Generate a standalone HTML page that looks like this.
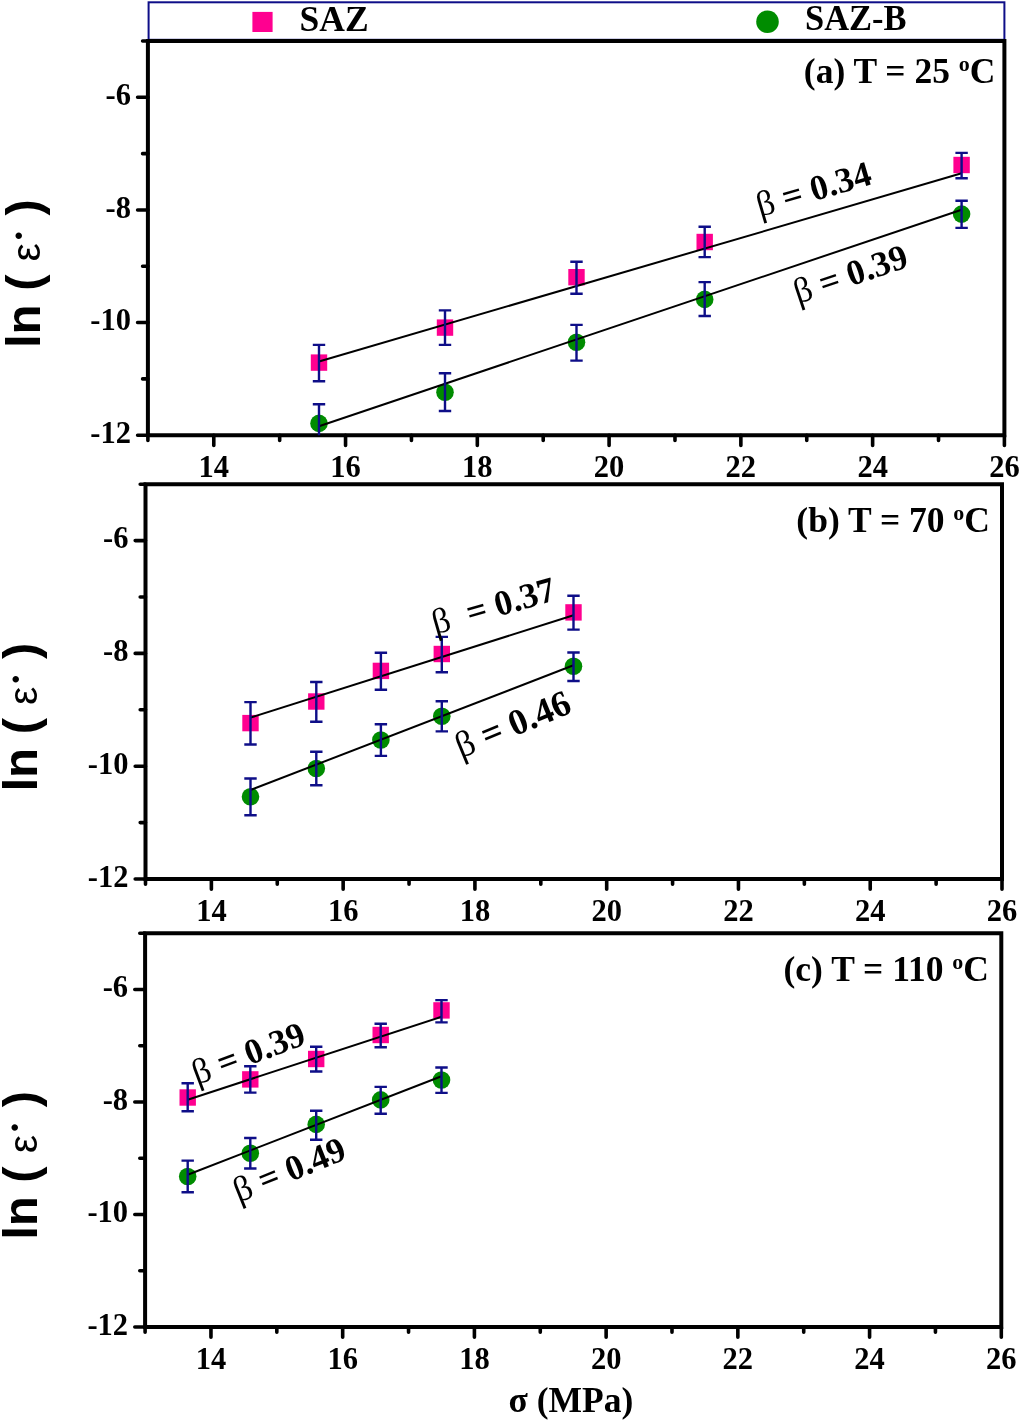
<!DOCTYPE html>
<html><head><meta charset="utf-8"><style>
html,body{margin:0;padding:0;background:#fff;}
svg{display:block;}
</style></head><body>
<svg width="1020" height="1420" viewBox="0 0 1020 1420">
<rect width="1020" height="1420" fill="#fff"/>
<rect x="148.6" y="2.3" width="855.8" height="37.5" fill="none" stroke="#0e0e88" stroke-width="2"/>
<rect x="252.4" y="11.9" width="20.2" height="20.1" fill="#ff0090"/>
<text x="299.5" y="30.6" font-family="'Liberation Serif', 'Times New Roman', serif" font-weight="bold" font-size="35.5">SAZ</text>
<circle cx="767.5" cy="21.8" r="11.3" fill="#008c00"/>
<text x="805" y="30.0" font-family="'Liberation Serif', 'Times New Roman', serif" font-weight="bold" font-size="35.5" textLength="101.5" lengthAdjust="spacingAndGlyphs">SAZ-B</text>
<path d="M147.9 41.0 H1004.4 V435.2 H147.9 Z" fill="none" stroke="#000" stroke-width="4.0" stroke-linejoin="miter"/>
<path d="M147.90 435.2 v5.3 M213.78 435.2 v10.3 M279.67 435.2 v5.3 M345.55 435.2 v10.3 M411.44 435.2 v5.3 M477.32 435.2 v10.3 M543.21 435.2 v5.3 M609.09 435.2 v10.3 M674.98 435.2 v5.3 M740.86 435.2 v10.3 M806.75 435.2 v5.3 M872.63 435.2 v10.3 M938.52 435.2 v5.3 M1004.40 435.2 v10.3 M147.9 435.20 h-10.3 M147.9 378.89 h-5.3 M147.9 322.57 h-10.3 M147.9 266.26 h-5.3 M147.9 209.94 h-10.3 M147.9 153.63 h-5.3 M147.9 97.31 h-10.3 M147.9 41.00 h-5.3" stroke="#000" stroke-width="3.6" stroke-linecap="round" fill="none"/>
<text x="213.78" y="476.70" text-anchor="middle" font-family="'Liberation Serif', 'Times New Roman', serif" font-weight="bold" font-size="30.5">14</text>
<text x="345.55" y="476.70" text-anchor="middle" font-family="'Liberation Serif', 'Times New Roman', serif" font-weight="bold" font-size="30.5">16</text>
<text x="477.32" y="476.70" text-anchor="middle" font-family="'Liberation Serif', 'Times New Roman', serif" font-weight="bold" font-size="30.5">18</text>
<text x="609.09" y="476.70" text-anchor="middle" font-family="'Liberation Serif', 'Times New Roman', serif" font-weight="bold" font-size="30.5">20</text>
<text x="740.86" y="476.70" text-anchor="middle" font-family="'Liberation Serif', 'Times New Roman', serif" font-weight="bold" font-size="30.5">22</text>
<text x="872.63" y="476.70" text-anchor="middle" font-family="'Liberation Serif', 'Times New Roman', serif" font-weight="bold" font-size="30.5">24</text>
<text x="1004.40" y="476.70" text-anchor="middle" font-family="'Liberation Serif', 'Times New Roman', serif" font-weight="bold" font-size="30.5">26</text>
<text x="130.90" y="105.11" text-anchor="end" font-family="'Liberation Serif', 'Times New Roman', serif" font-weight="bold" font-size="30.5">-6</text>
<text x="130.90" y="217.74" text-anchor="end" font-family="'Liberation Serif', 'Times New Roman', serif" font-weight="bold" font-size="30.5">-8</text>
<text x="130.90" y="330.37" text-anchor="end" font-family="'Liberation Serif', 'Times New Roman', serif" font-weight="bold" font-size="30.5">-10</text>
<text x="130.90" y="443.00" text-anchor="end" font-family="'Liberation Serif', 'Times New Roman', serif" font-weight="bold" font-size="30.5">-12</text>
<path d="M145.5 484.2 H1002.0 V879.0 H145.5 Z" fill="none" stroke="#000" stroke-width="4.0" stroke-linejoin="miter"/>
<path d="M145.50 879.0 v5.3 M211.38 879.0 v10.3 M277.27 879.0 v5.3 M343.15 879.0 v10.3 M409.04 879.0 v5.3 M474.92 879.0 v10.3 M540.81 879.0 v5.3 M606.69 879.0 v10.3 M672.58 879.0 v5.3 M738.46 879.0 v10.3 M804.35 879.0 v5.3 M870.23 879.0 v10.3 M936.12 879.0 v5.3 M1002.00 879.0 v10.3 M145.5 879.00 h-10.3 M145.5 822.60 h-5.3 M145.5 766.20 h-10.3 M145.5 709.80 h-5.3 M145.5 653.40 h-10.3 M145.5 597.00 h-5.3 M145.5 540.60 h-10.3 M145.5 484.20 h-5.3" stroke="#000" stroke-width="3.6" stroke-linecap="round" fill="none"/>
<text x="211.38" y="920.50" text-anchor="middle" font-family="'Liberation Serif', 'Times New Roman', serif" font-weight="bold" font-size="30.5">14</text>
<text x="343.15" y="920.50" text-anchor="middle" font-family="'Liberation Serif', 'Times New Roman', serif" font-weight="bold" font-size="30.5">16</text>
<text x="474.92" y="920.50" text-anchor="middle" font-family="'Liberation Serif', 'Times New Roman', serif" font-weight="bold" font-size="30.5">18</text>
<text x="606.69" y="920.50" text-anchor="middle" font-family="'Liberation Serif', 'Times New Roman', serif" font-weight="bold" font-size="30.5">20</text>
<text x="738.46" y="920.50" text-anchor="middle" font-family="'Liberation Serif', 'Times New Roman', serif" font-weight="bold" font-size="30.5">22</text>
<text x="870.23" y="920.50" text-anchor="middle" font-family="'Liberation Serif', 'Times New Roman', serif" font-weight="bold" font-size="30.5">24</text>
<text x="1002.00" y="920.50" text-anchor="middle" font-family="'Liberation Serif', 'Times New Roman', serif" font-weight="bold" font-size="30.5">26</text>
<text x="128.50" y="548.40" text-anchor="end" font-family="'Liberation Serif', 'Times New Roman', serif" font-weight="bold" font-size="30.5">-6</text>
<text x="128.50" y="661.20" text-anchor="end" font-family="'Liberation Serif', 'Times New Roman', serif" font-weight="bold" font-size="30.5">-8</text>
<text x="128.50" y="774.00" text-anchor="end" font-family="'Liberation Serif', 'Times New Roman', serif" font-weight="bold" font-size="30.5">-10</text>
<text x="128.50" y="886.80" text-anchor="end" font-family="'Liberation Serif', 'Times New Roman', serif" font-weight="bold" font-size="30.5">-12</text>
<path d="M145.1 933.3 H1001.3 V1327.0 H145.1 Z" fill="none" stroke="#000" stroke-width="4.0" stroke-linejoin="miter"/>
<path d="M145.10 1327.0 v5.3 M210.96 1327.0 v10.3 M276.82 1327.0 v5.3 M342.68 1327.0 v10.3 M408.55 1327.0 v5.3 M474.41 1327.0 v10.3 M540.27 1327.0 v5.3 M606.13 1327.0 v10.3 M671.99 1327.0 v5.3 M737.85 1327.0 v10.3 M803.72 1327.0 v5.3 M869.58 1327.0 v10.3 M935.44 1327.0 v5.3 M1001.30 1327.0 v10.3 M145.1 1327.00 h-10.3 M145.1 1270.76 h-5.3 M145.1 1214.51 h-10.3 M145.1 1158.27 h-5.3 M145.1 1102.03 h-10.3 M145.1 1045.79 h-5.3 M145.1 989.54 h-10.3 M145.1 933.30 h-5.3" stroke="#000" stroke-width="3.6" stroke-linecap="round" fill="none"/>
<text x="210.96" y="1368.50" text-anchor="middle" font-family="'Liberation Serif', 'Times New Roman', serif" font-weight="bold" font-size="30.5">14</text>
<text x="342.68" y="1368.50" text-anchor="middle" font-family="'Liberation Serif', 'Times New Roman', serif" font-weight="bold" font-size="30.5">16</text>
<text x="474.41" y="1368.50" text-anchor="middle" font-family="'Liberation Serif', 'Times New Roman', serif" font-weight="bold" font-size="30.5">18</text>
<text x="606.13" y="1368.50" text-anchor="middle" font-family="'Liberation Serif', 'Times New Roman', serif" font-weight="bold" font-size="30.5">20</text>
<text x="737.85" y="1368.50" text-anchor="middle" font-family="'Liberation Serif', 'Times New Roman', serif" font-weight="bold" font-size="30.5">22</text>
<text x="869.58" y="1368.50" text-anchor="middle" font-family="'Liberation Serif', 'Times New Roman', serif" font-weight="bold" font-size="30.5">24</text>
<text x="1001.30" y="1368.50" text-anchor="middle" font-family="'Liberation Serif', 'Times New Roman', serif" font-weight="bold" font-size="30.5">26</text>
<text x="128.10" y="997.34" text-anchor="end" font-family="'Liberation Serif', 'Times New Roman', serif" font-weight="bold" font-size="30.5">-6</text>
<text x="128.10" y="1109.83" text-anchor="end" font-family="'Liberation Serif', 'Times New Roman', serif" font-weight="bold" font-size="30.5">-8</text>
<text x="128.10" y="1222.31" text-anchor="end" font-family="'Liberation Serif', 'Times New Roman', serif" font-weight="bold" font-size="30.5">-10</text>
<text x="128.10" y="1334.80" text-anchor="end" font-family="'Liberation Serif', 'Times New Roman', serif" font-weight="bold" font-size="30.5">-12</text>
<rect x="310.80" y="354.40" width="16.4" height="16.4" fill="#ff0090"/>
<circle cx="319.00" cy="423.40" r="8.8" fill="#008c00"/>
<rect x="436.80" y="319.40" width="16.4" height="16.4" fill="#ff0090"/>
<circle cx="445.00" cy="392.30" r="8.8" fill="#008c00"/>
<rect x="568.30" y="269.00" width="16.4" height="16.4" fill="#ff0090"/>
<circle cx="576.50" cy="342.20" r="8.8" fill="#008c00"/>
<rect x="696.50" y="233.80" width="16.4" height="16.4" fill="#ff0090"/>
<circle cx="704.70" cy="299.40" r="8.8" fill="#008c00"/>
<rect x="953.40" y="156.80" width="16.4" height="16.4" fill="#ff0090"/>
<circle cx="961.60" cy="214.10" r="8.8" fill="#008c00"/>
<line x1="319.0" y1="361.5" x2="961.6" y2="173.3" stroke="#000" stroke-width="2.0"/>
<line x1="319.0" y1="426.2" x2="961.6" y2="209.7" stroke="#000" stroke-width="2.0"/>
<path d="M319.00 344.90 V381.30 M312.80 344.90 h12.4 M312.80 381.30 h12.4 M319.00 404.20 V435.20 M312.80 404.20 h12.4 M445.00 310.40 V344.90 M438.80 310.40 h12.4 M438.80 344.90 h12.4 M445.00 373.30 V411.00 M438.80 373.30 h12.4 M438.80 411.00 h12.4 M576.50 261.70 V293.80 M570.30 261.70 h12.4 M570.30 293.80 h12.4 M576.50 324.90 V360.60 M570.30 324.90 h12.4 M570.30 360.60 h12.4 M704.70 226.80 V257.10 M698.50 226.80 h12.4 M698.50 257.10 h12.4 M704.70 282.10 V316.00 M698.50 282.10 h12.4 M698.50 316.00 h12.4 M961.60 152.90 V178.20 M955.40 152.90 h12.4 M955.40 178.20 h12.4 M961.60 200.70 V227.90 M955.40 200.70 h12.4 M955.40 227.90 h12.4" stroke="#0e0e88" stroke-width="2.4" fill="none"/>
<rect x="242.30" y="714.90" width="16.4" height="16.4" fill="#ff0090"/>
<circle cx="250.50" cy="796.70" r="8.8" fill="#008c00"/>
<rect x="308.10" y="693.30" width="16.4" height="16.4" fill="#ff0090"/>
<circle cx="316.30" cy="768.50" r="8.8" fill="#008c00"/>
<rect x="372.70" y="662.70" width="16.4" height="16.4" fill="#ff0090"/>
<circle cx="380.90" cy="740.00" r="8.8" fill="#008c00"/>
<rect x="433.60" y="645.80" width="16.4" height="16.4" fill="#ff0090"/>
<circle cx="441.80" cy="716.30" r="8.8" fill="#008c00"/>
<rect x="565.30" y="604.20" width="16.4" height="16.4" fill="#ff0090"/>
<circle cx="573.50" cy="666.30" r="8.8" fill="#008c00"/>
<line x1="250.5" y1="717.6" x2="573.5" y2="615.3" stroke="#000" stroke-width="2.0"/>
<line x1="250.5" y1="790.0" x2="573.5" y2="665.3" stroke="#000" stroke-width="2.0"/>
<path d="M250.50 702.10 V744.50 M244.30 702.10 h12.4 M244.30 744.50 h12.4 M250.50 778.50 V815.20 M244.30 778.50 h12.4 M244.30 815.20 h12.4 M316.30 682.00 V721.70 M310.10 682.00 h12.4 M310.10 721.70 h12.4 M316.30 751.70 V785.20 M310.10 751.70 h12.4 M310.10 785.20 h12.4 M380.90 652.70 V689.80 M374.70 652.70 h12.4 M374.70 689.80 h12.4 M380.90 724.20 V755.90 M374.70 724.20 h12.4 M374.70 755.90 h12.4 M441.80 636.90 V672.20 M435.60 636.90 h12.4 M435.60 672.20 h12.4 M441.80 701.20 V731.40 M435.60 701.20 h12.4 M435.60 731.40 h12.4 M573.50 595.70 V629.60 M567.30 595.70 h12.4 M567.30 629.60 h12.4 M573.50 652.50 V681.00 M567.30 652.50 h12.4 M567.30 681.00 h12.4" stroke="#0e0e88" stroke-width="2.4" fill="none"/>
<rect x="179.50" y="1089.30" width="16.4" height="16.4" fill="#ff0090"/>
<circle cx="187.70" cy="1176.50" r="8.8" fill="#008c00"/>
<rect x="242.10" y="1071.20" width="16.4" height="16.4" fill="#ff0090"/>
<circle cx="250.30" cy="1153.20" r="8.8" fill="#008c00"/>
<rect x="308.00" y="1050.80" width="16.4" height="16.4" fill="#ff0090"/>
<circle cx="316.20" cy="1124.40" r="8.8" fill="#008c00"/>
<rect x="372.50" y="1026.80" width="16.4" height="16.4" fill="#ff0090"/>
<circle cx="380.70" cy="1099.90" r="8.8" fill="#008c00"/>
<rect x="433.30" y="1002.20" width="16.4" height="16.4" fill="#ff0090"/>
<circle cx="441.50" cy="1080.00" r="8.8" fill="#008c00"/>
<line x1="187.7" y1="1099.7" x2="441.5" y2="1016.8" stroke="#000" stroke-width="2.0"/>
<line x1="187.7" y1="1174.7" x2="441.5" y2="1076.3" stroke="#000" stroke-width="2.0"/>
<path d="M187.70 1083.30 V1111.20 M181.50 1083.30 h12.4 M181.50 1111.20 h12.4 M187.70 1160.60 V1192.30 M181.50 1160.60 h12.4 M181.50 1192.30 h12.4 M250.30 1066.30 V1092.60 M244.10 1066.30 h12.4 M244.10 1092.60 h12.4 M250.30 1138.00 V1168.50 M244.10 1138.00 h12.4 M244.10 1168.50 h12.4 M316.20 1046.80 V1071.50 M310.00 1046.80 h12.4 M310.00 1071.50 h12.4 M316.20 1110.80 V1139.80 M310.00 1110.80 h12.4 M310.00 1139.80 h12.4 M380.70 1023.70 V1047.20 M374.50 1023.70 h12.4 M374.50 1047.20 h12.4 M380.70 1086.90 V1113.80 M374.50 1086.90 h12.4 M374.50 1113.80 h12.4 M441.50 1000.10 V1022.40 M435.30 1000.10 h12.4 M435.30 1022.40 h12.4 M441.50 1067.50 V1092.90 M435.30 1067.50 h12.4 M435.30 1092.90 h12.4" stroke="#0e0e88" stroke-width="2.4" fill="none"/>
<text x="995.5" y="83.4" text-anchor="end" font-family="'Liberation Serif', 'Times New Roman', serif" font-weight="bold" font-size="35.5">(a) T = 25 <tspan font-size="22" dy="-12">o</tspan><tspan dy="12">C</tspan></text>
<text x="990" y="531.7" text-anchor="end" font-family="'Liberation Serif', 'Times New Roman', serif" font-weight="bold" font-size="35.5">(b) T = 70 <tspan font-size="22" dy="-12">o</tspan><tspan dy="12">C</tspan></text>
<text x="989" y="981.3" text-anchor="end" font-family="'Liberation Serif', 'Times New Roman', serif" font-weight="bold" font-size="35.5">(c) T = 110 <tspan font-size="22" dy="-12">o</tspan><tspan dy="12">C</tspan></text>
<text transform="translate(760 217) rotate(-16.3)" font-family="'Liberation Serif', 'Times New Roman', serif" font-size="35.5"><tspan>β</tspan><tspan font-weight="bold"> = 0.34</tspan></text>
<text transform="translate(798 304) rotate(-18.6)" font-family="'Liberation Serif', 'Times New Roman', serif" font-size="35.5"><tspan>β</tspan><tspan font-weight="bold"> = 0.39</tspan></text>
<text transform="translate(435.5 634.5) rotate(-16)" font-family="'Liberation Serif', 'Times New Roman', serif" font-size="35.5"><tspan>β</tspan><tspan font-weight="bold">  = 0.37</tspan></text>
<text transform="translate(461 758.5) rotate(-22.5)" font-family="'Liberation Serif', 'Times New Roman', serif" font-size="36.6"><tspan>β</tspan><tspan font-weight="bold"> = 0.46</tspan></text>
<text transform="translate(197 1085) rotate(-20.5)" font-family="'Liberation Serif', 'Times New Roman', serif" font-size="35.5"><tspan>β</tspan><tspan font-weight="bold"> = 0.39</tspan></text>
<text transform="translate(238.7 1202.7) rotate(-22)" font-family="'Liberation Serif', 'Times New Roman', serif" font-size="35.5"><tspan>β</tspan><tspan font-weight="bold"> = 0.49</tspan></text>
<g transform="translate(40.3 348) rotate(-90)" font-family="'Liberation Sans', Arial, sans-serif" font-size="49"><text font-weight="bold">ln (</text><text x="86.5" font-size="41">ε</text><text x="108" y="-13.5" font-size="24">•</text><text x="132.5" font-weight="bold">)</text></g>
<g transform="translate(37.4 791.5) rotate(-90)" font-family="'Liberation Sans', Arial, sans-serif" font-size="49"><text font-weight="bold">ln (</text><text x="86.5" font-size="41">ε</text><text x="108" y="-13.5" font-size="24">•</text><text x="132.5" font-weight="bold">)</text></g>
<g transform="translate(36.8 1239.8) rotate(-90)" font-family="'Liberation Sans', Arial, sans-serif" font-size="49"><text font-weight="bold">ln (</text><text x="86.5" font-size="41">ε</text><text x="108" y="-13.5" font-size="24">•</text><text x="132.5" font-weight="bold">)</text></g>
<text x="508.5" y="1412.3" font-family="'Liberation Serif', 'Times New Roman', serif" font-weight="bold" font-size="35.5">σ (MPa)</text>
</svg>
</body></html>
